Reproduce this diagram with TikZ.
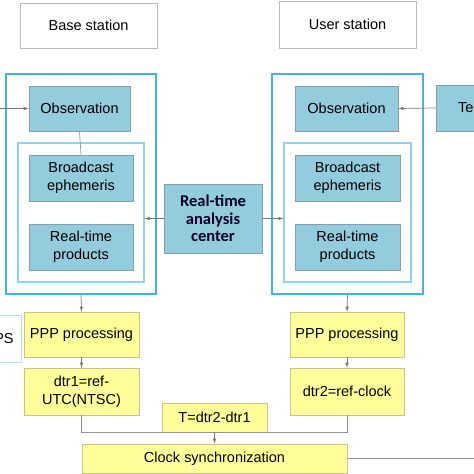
\documentclass[tikz,border=0pt]{standalone}
\usepackage{fontspec}
\setmainfont{Liberation Sans}
\newfontfamily\calfont{Carlito}
\usepackage{tikz}
\usetikzlibrary{shapes,arrows,positioning,calc}
\definecolor{obsTeal}{RGB}{147,204,220}
\definecolor{obsEdge}{RGB}{130,160,170}
\definecolor{pppYellow}{RGB}{255,255,153}
\definecolor{pppEdge}{RGB}{200,194,140}
\definecolor{outerBlue}{RGB}{62,180,232}
\definecolor{innerBlue}{RGB}{140,212,240}
\definecolor{lineGray}{RGB}{120,120,125}

\begin{document}
\begin{tikzpicture}[
    x=1pt, y=-1pt,
    every node/.style={font=\fontsize{14.5}{18}\selectfont, text=black, inner sep=0pt},
    station/.style={rectangle, draw=gray!55, line width=1pt, fill=white},
    tealbox/.style={rectangle, draw=obsEdge, line width=0.8pt, fill=obsTeal, align=center},
    yelbox/.style={rectangle, draw=pppEdge, line width=0.8pt, fill=pppYellow, align=center},
    outer/.style={rectangle, draw=outerBlue, line width=2pt},
    inner/.style={rectangle, draw=innerBlue, line width=1.2pt},
    arrow/.style={-latex, draw=lineGray, line width=0.7pt},
    line/.style={draw=lineGray!80, line width=0.7pt}
]
    \clip (0,0) rectangle (474,474);
    \fill[white] (0,0) rectangle (474,474);

    \node[station, minimum width=137pt, minimum height=45pt] (base) at (88.5,25.5) {Base station};
    \node[station, minimum width=137pt, minimum height=47pt] (user) at (347.5,24.5) {User station};

    % base side
    \node[outer, minimum width=150pt, minimum height=220pt] (lout) at (81,184) {};
    \node[inner, minimum width=126pt, minimum height=139pt] (lin) at (81,212.5) {};
    \node[tealbox, minimum width=101pt, minimum height=45pt] (lobs) at (79.5,108.5) {Observation};
    \node[tealbox, minimum width=104pt, minimum height=46pt] (lbro) at (81,178) {Broadcast\\ephemeris};
    \node[tealbox, minimum width=104pt, minimum height=46pt] (lprod) at (81,247) {Real-time\\products};

    % analysis center
    \node[tealbox, minimum width=98pt, minimum height=69pt,
          font=\calfont\bfseries\fontsize{16.5}{17.5}\selectfont, text=black!85!blue] (rtac) at (213,218.5) {Real-time\\analysis\\center};

    % user side
    \node[outer, minimum width=151pt, minimum height=220pt] (rout) at (347.5,184) {};
    \node[inner, minimum width=127pt, minimum height=139pt] (rin) at (347.5,212.5) {};
    \node[tealbox, minimum width=103pt, minimum height=45pt] (robs) at (346.5,108.5) {Observation};
    \node[tealbox, minimum width=105pt, minimum height=46pt] (rbro) at (347.5,178) {Broadcast\\ephemeris};
    \node[tealbox, minimum width=105pt, minimum height=46pt] (rprod) at (347.5,247) {Real-time\\products};
    \node[tealbox, minimum height=46pt, text width=20pt, inner xsep=22pt, align=left] (test) at (468,108) {Te};

    % processing
    \node[rectangle, draw=innerBlue!70, line width=0.8pt, fill=white, anchor=east,
          minimum height=47pt, text width=30pt, inner xsep=8pt, align=right] (gps) at (22,338.5) {PS};
    \node[yelbox, minimum width=115pt, minimum height=45pt] (lppp) at (81.5,334.5) {PPP processing};
    \node[yelbox, minimum width=115pt, minimum height=47pt] (ldtr) at (81.5,391.5) {dtr1=ref-\\UTC(NTSC)};
    \node[yelbox, minimum width=114pt, minimum height=45pt] (rppp) at (347,334.5) {PPP processing};
    \node[yelbox, minimum width=114pt, minimum height=47pt] (rdtr) at (347,391.5) {dtr2=ref-clock};
    \node[yelbox, minimum width=105pt, minimum height=29pt] (tbox) at (214.5,417.5) {T=dtr2-dtr1};
    \node[yelbox, minimum width=265pt, minimum height=29pt] (clock) at (214.5,458.5) {Clock synchronization};
    \coordinate (inL) at (-5,108.5);
    \coordinate (outR) at (480,458.5);

    \draw[arrow] (inL) -- (lobs.west);
    \draw[arrow] (test.west) -- (robs.east);
    \draw[line] (lobs.south) -- (lbro.north);
    \draw[arrow] (rtac.west) -- (rtac.west -| lin.east);
    \draw[arrow] (rtac.east) -- (rtac.east -| rin.west);
    \draw[arrow] (lout.south) -- (lppp.north);
    \draw[arrow] (rout.south) -- (rppp.north);
    \draw[arrow] (lppp) -- (ldtr);
    \draw[arrow] (rppp) -- (rdtr);
    \draw[line] (ldtr.south) |- (tbox.south) -| (rdtr.south);
    \draw[arrow] (tbox.south) -- (clock.north);
    \draw[line] (clock.east) -- (outR);
\end{tikzpicture}
\end{document}
